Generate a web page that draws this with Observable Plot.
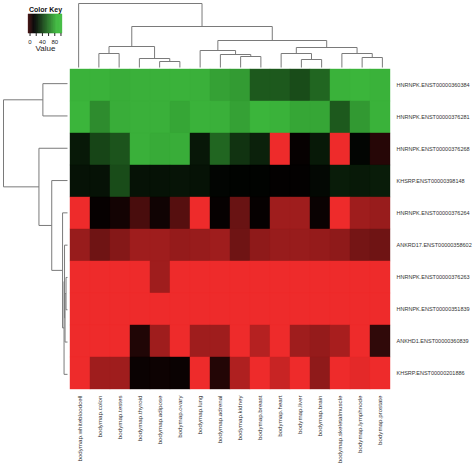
<!DOCTYPE html>
<html><head><meta charset="utf-8">
<script src="https://cdn.jsdelivr.net/npm/d3@7"></script>
<script src="https://cdn.jsdelivr.net/npm/@observablehq/plot@0.6"></script>
<style>
body{margin:0;background:#fff;}
#wrap{position:relative;width:474px;height:470px;overflow:hidden;}
#wrap > svg, #wrap > figure{position:absolute;margin:0;overflow:visible;}
</style></head><body><div id="wrap"></div>
<script>
const columns = ["bodymap.whitebloodcell","bodymap.colon","bodymap.testes","bodymap.thyroid","bodymap.adipose","bodymap.ovary","bodymap.lung","bodymap.adrenal","bodymap.kidney","bodymap.breast","bodymap.heart","bodymap.liver","bodymap.brain","bodymap.skeletalmuscle","bodymap.lymphnode","bodymap.prostate"];
const rows = ["HNRNPK.ENST00000360384","HNRNPK.ENST00000376281","HNRNPK.ENST00000376268","KHSRP.ENST00000398148","HNRNPK.ENST00000376264","ANKRD17.ENST00000358602","HNRNPK.ENST00000376263","HNRNPK.ENST00000351839","ANKHD1.ENST00000360839","KHSRP.ENST00000201886"];
const values = [
  [85,85,83,84,84,85,84,78,76,50,50,45,55,85,86,85],
  [86,70,83,84,84,80,85,84,78,86,85,80,80,50,75,85],
  [25,42,48,84,82,83,24,55,35,28,-60,13,25,-60,17,3],
  [22,22,45,22,22,23,22,17,16,16,14,14,18,26,25,26],
  [-60,13,9,-8,10,-12,-60,13,-18,13,-35,-35,12,-60,-35,-33],
  [-33,-20,-27,-35,-35,-32,-33,-35,-20,-30,-33,-33,-32,-30,-22,-20],
  [-60,-60,-60,-60,-35,-60,-60,-60,-60,-60,-60,-60,-60,-60,-60,-60],
  [-60,-60,-60,-60,-60,-60,-60,-60,-60,-60,-60,-60,-60,-60,-60,-60],
  [-60,-60,-60,5,-35,-60,-35,-35,-60,-42,-60,-35,-32,-38,-60,0],
  [-60,-35,-35,12,11,12,-60,4,-40,-60,-48,-60,-30,-60,-57,-60]
];
// hclust-style merges: negative = leaf (-(index+1)), positive = earlier merge (1-based); third = height
const colMerge = [
  [-5,-6,6],[-4,1,9],[-2,-3,14],[3,2,21],[-9,-10,11],[-8,5,13],[-7,6,17],
  [-12,-13,8],[-11,8,14],[-15,-16,10],[-14,10,14],[9,11,20],[7,12,27],[4,13,41],[-1,14,64]
];
const rowMerge = [
  [-7,-8,1.5],[1,-9,2.5],[-6,2,3],[3,-10,3.5],[-5,4,5],[-4,5,16],[-3,6,29],[-1,-2,25],[8,7,65]
];
const keyTicks = [0,20,40,60,80,100];
const keyLabels = [0,40,80];

(function(){
const font = "'Liberation Sans', Arial, sans-serif";
const colorSpec = {type:"linear", domain:[-60,15,88], range:["#ee2b2b","#000000","#3dba3d"], interpolate:"rgb", clamp:true};

function dendroSegments(merge){
  const pos=[], ht=[], segs=[];
  const get = id => id<0 ? [-id-1,0] : [pos[id-1], ht[id-1]];
  for(const [a,b,h] of merge){
    const [pa,ha]=get(a), [pb,hb]=get(b);
    segs.push({p1:pa,h1:ha,p2:pa,h2:h},{p1:pb,h1:hb,p2:pb,h2:h},{p1:pa,h1:h,p2:pb,h2:h});
    pos.push((pa+pb)/2); ht.push(h);
  }
  return segs;
}

const cells = [];
rows.forEach((r,i)=>columns.forEach((c,j)=>cells.push({row:r,col:c,v:values[i][j]})));

const wrap = document.getElementById("wrap");

const mainPlot = Plot.plot({
  width:474, height:470,
  marginLeft:68, marginRight:82, marginTop:67, marginBottom:80,
  style:{fontFamily:font, fontSize:"6px", color:"#333", background:"transparent", overflow:"visible"},
  x:{domain:columns, padding:0, axis:null},
  y:{domain:rows, padding:0, axis:null},
  color:colorSpec,
  marks:[
    Plot.cell(cells,{x:"col",y:"row",fill:"v",inset:0,stroke:"v",strokeWidth:0.4}),
    Plot.axisX({anchor:"bottom",tickRotate:-90,tickSize:0,tickPadding:5,label:null,fontSize:6.2,fill:"#333",lineWidth:Infinity,textOverflow:null}),
    Plot.axisY({anchor:"right",tickSize:0,tickPadding:4,label:null,fontSize:5.5,fill:"#333",lineWidth:Infinity,textOverflow:null})
  ]
});
mainPlot.style.left="0px"; mainPlot.style.top="0px";
wrap.appendChild(mainPlot);

const topPlot = Plot.plot({
  width:474, height:67,
  marginLeft:68, marginRight:82, marginTop:3, marginBottom:0,
  style:{background:"transparent"},
  x:{domain:[-0.5,columns.length-0.5], axis:null},
  y:{domain:[0,64], axis:null},
  marks:[Plot.link(dendroSegments(colMerge),{x1:"p1",y1:"h1",x2:"p2",y2:"h2",stroke:"#7a7a7a",strokeWidth:1})]
});
topPlot.style.left="0px"; topPlot.style.top="0px";
wrap.appendChild(topPlot);

const leftPlot = Plot.plot({
  width:68, height:470,
  marginLeft:3, marginRight:1, marginTop:67, marginBottom:80,
  style:{background:"transparent"},
  x:{domain:[0,65], reverse:true, axis:null},
  y:{domain:[-0.5,rows.length-0.5], reverse:true, axis:null},
  marks:[Plot.link(dendroSegments(rowMerge),{x1:"h1",y1:"p1",x2:"h2",y2:"p2",stroke:"#7a7a7a",strokeWidth:1})]
});
leftPlot.style.left="0px"; leftPlot.style.top="0px";
wrap.appendChild(leftPlot);

const keySteps = d3.range(-5,105,1);
const keyPlot = Plot.plot({
  width:68, height:56,
  marginLeft:28, marginRight:6, marginTop:14, marginBottom:23,
  style:{fontFamily:font, fontSize:"6px", color:"#222", background:"transparent"},
  x:{domain:[-5,105], axis:null},
  y:{domain:[0,1], axis:null},
  color:colorSpec,
  marks:[
    Plot.rect(keySteps,{x1:d=>d,x2:d=>d+1,y1:0,y2:1,fill:d=>d,inset:0,stroke:d=>d,strokeWidth:0.3}),
    Plot.axisX({anchor:"bottom",ticks:keyTicks,tickSize:3,tickPadding:3,label:null,fontSize:6,
      tickFormat:d=>keyLabels.includes(d)?String(d):""}),
    Plot.text(["Color Key"],{frameAnchor:"top",dy:-7,text:d=>d,fontWeight:"bold",fontSize:7,fill:"#111"}),
    Plot.text(["Value"],{frameAnchor:"bottom",dy:17,text:d=>d,fontSize:8,fill:"#222"})
  ]
});
keyPlot.style.left="0px"; keyPlot.style.top="0px";
wrap.appendChild(keyPlot);
})();
</script></body></html>
